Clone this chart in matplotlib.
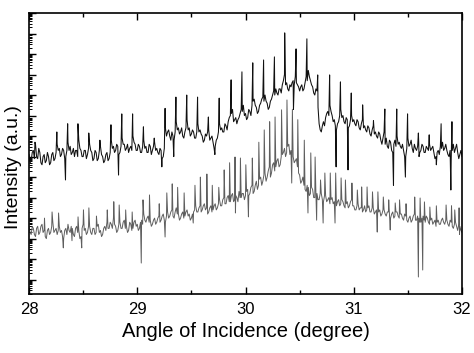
import numpy as np
import matplotlib
matplotlib.use('Agg')
import matplotlib.pyplot as plt
from matplotlib.ticker import LogLocator, NullFormatter, MultipleLocator

plt.rcParams['font.family'] = ['Liberation Sans', 'DejaVu Sans']

# sampling grid of the scans (degree), step 0.02, plus the in-between samples
angle = np.linspace(28, 32, 201)
angle_mid = angle[:-1] + 0.01

# log10 intensity, upper (black) scan
upper_lg = [
    7.1, 6.8, 7.3, 7.6, 6.9, 7.2, 6.6, 7.1, 6.8, 7.0, 6.7, 7.2, 6.9, 7.6, 7.4, 7.1, 7.3, 7.0, 7.7, 7.5, 7.2, 7.0, 7.3, 7.8, 7.3,
    7.0, 7.3, 7.1, 7.6, 7.2, 6.9, 7.2, 6.9, 7.5, 7.0, 6.8, 7.2, 6.9, 7.8, 7.5, 7.3, 7.5, 7.2, 7.9, 7.6, 7.4, 7.2, 7.5, 8.0, 7.6,
    7.3, 7.5, 7.2, 7.8, 7.5, 7.2, 7.5, 7.3, 7.7, 7.4, 7.1, 7.3, 7.0, 8.4, 8.2, 8.0, 8.2, 7.8, 8.7, 8.4, 8.2, 8.0, 8.2, 8.8, 8.4,
    8.1, 8.2, 7.9, 8.6, 8.3, 8.0, 7.8, 8.0, 8.3, 7.9, 7.7, 7.5, 7.9, 8.6, 8.4, 8.2, 8.5, 8.7, 9.0, 9.3, 8.8, 8.6, 8.9, 9.3, 9.5,
    9.1, 8.9, 9.2, 9.5, 9.8, 9.4, 9.2, 9.6, 9.9, 10.0, 9.6, 9.4, 9.8, 10.2, 10.3, 10.0, 10.3, 10.5, 11.0, 10.6, 10.2, 10.4, 10.7, 10.9, 10.5,
    10.2, 10.5, 10.3, 10.9, 11.2, 10.7, 10.4, 10.0, 10.2, 8.6, 8.2, 8.7, 8.9, 9.2, 9.5, 9.0, 8.8, 8.3, 8.7, 9.3, 9.0, 8.6, 8.8, 8.5, 9.0,
    8.8, 8.5, 8.7, 8.3, 8.8, 8.5, 8.2, 8.4, 8.0, 8.5, 8.2, 7.9, 8.1, 7.6, 8.2, 7.9, 7.4, 7.7, 7.2, 7.8, 8.0, 7.7, 7.4, 7.3, 7.0,
    7.9, 7.6, 7.4, 7.6, 7.3, 7.7, 7.3, 7.5, 7.2, 7.4, 7.6, 7.4, 7.2, 7.0, 7.3, 7.5, 7.7, 7.4, 7.3, 7.0, 6.8, 7.6, 7.4, 7.2, 7.1,
    7.0]
upper_mid_lg = [
    6.7, 7.2, 6.9, 7.0, 7.4, 6.7, 7.0, 6.7, 7.2, 6.6, 7.1, 6.8, 7.2, 7.3, 7.0, 7.4, 6.9, 7.3, 7.3, 7.1, 7.4, 7.3, 7.0, 7.4, 7.0,
    7.3, 6.9, 7.4, 7.3, 6.8, 7.3, 6.8, 7.3, 7.1, 6.7, 7.1, 6.8, 7.2, 7.4, 7.2, 7.6, 7.1, 7.5, 7.6, 7.3, 7.6, 7.4, 7.3, 7.7, 7.3,
    7.6, 7.2, 7.5, 7.4, 7.2, 7.6, 7.1, 7.5, 7.3, 7.2, 7.4, 6.9, 7.4, 8.0, 8.3, 7.8, 8.0, 8.2, 8.3, 8.1, 8.4, 7.9, 8.4, 8.3, 8.0,
    8.3, 7.9, 8.2, 8.2, 8.1, 7.7, 8.1, 8.2, 7.8, 8.0, 7.4, 7.8, 8.2, 8.3, 8.2, 8.6, 8.3, 8.9, 9.1, 8.7, 8.9, 8.8, 9.1, 9.2, 9.0,
    8.8, 9.3, 9.0, 9.7, 9.5, 9.1, 9.5, 9.8, 9.7, 9.7, 9.3, 9.7, 10.0, 10.0, 10.1, 10.3, 10.1, 10.7, 10.5, 10.3, 10.5, 10.6, 10.5, 10.6, 10.4,
    10.4, 10.2, 10.6, 10.7, 10.9, 10.5, 10.1, 10.3, 9.4, 8.3, 8.5, 8.5, 9.1, 9.0, 9.2, 8.7, 8.5, 8.6, 9.0, 8.9, 8.7, 8.9, 8.4, 8.8, 8.7,
    8.6, 8.8, 8.4, 8.6, 8.4, 8.3, 8.5, 8.1, 8.3, 8.1, 8.0, 8.2, 7.8, 7.9, 7.6, 7.5, 7.8, 7.3, 7.6, 7.5, 7.6, 7.5, 7.6, 7.0, 7.4,
    7.5, 7.8, 7.2, 7.4, 7.5, 7.2, 7.6, 7.2, 7.5, 7.3, 7.3, 7.5, 6.9, 7.2, 7.1, 7.4, 7.3, 7.6, 7.1, 7.3, 7.3, 7.2, 7.6, 6.9, 7.3]

upper_peak_x = [28.055, 28.257, 28.357, 28.452, 28.552, 28.655, 28.757, 28.857, 28.957, 29.057, 29.157,
                29.257, 29.357, 29.457, 29.557, 29.657, 29.757, 29.867, 29.967, 30.067, 30.167, 30.267,
                30.362, 30.467, 30.567, 30.667, 30.777, 30.877, 30.977, 31.082, 31.182, 31.287, 31.397,
                31.497, 31.597, 31.697, 31.807, 31.907]
upper_peak_lg = [7.7, 8.2, 8.6, 8.6, 8.15, 7.8, 8.55, 9.08, 9.08, 8.45, 7.9,
                 9.35, 9.9, 10.0, 9.9, 8.93, 9.85, 10.74, 11.13, 11.57, 11.71, 11.86,
                 13.03, 12.25, 12.74, 10.98, 10.98, 10.64, 10.1, 9.52, 8.75, 9.32, 9.32,
                 9.08, 8.15, 8.06, 8.6, 8.7]

upper_dip_x = [28.337, 28.827, 29.227, 29.337, 29.717, 30.443, 30.837, 30.947, 31.367, 31.477,
               31.603, 31.763, 31.897]
upper_dip_lg = [5.86, 6.1, 6.5, 7.0, 7.1, 9.3, 6.5, 6.35, 5.6, 6.0, 7.0, 6.6, 5.37]

# log10 intensity, lower (grey) scan
lower_lg = [
    3.6, 3.2, 3.5, 3.1, 3.6, 3.3, 3.7, 3.4, 3.0, 3.5, 3.3, 3.8, 3.4, 3.2, 3.6, 3.4, 3.0, 3.5, 3.7, 3.3, 3.5, 3.1, 3.6, 3.4, 3.1,
    3.7, 3.5, 3.3, 3.6, 3.2, 3.5, 3.3, 3.7, 3.4, 3.2, 3.6, 3.8, 3.5, 3.7, 4.0, 3.6, 3.4, 3.8, 3.5, 3.9, 3.6, 3.4, 3.7, 3.5, 3.9,
    3.7, 3.5, 3.9, 4.2, 3.8, 4.1, 3.9, 3.7, 4.0, 3.8, 4.1, 3.9, 4.2, 3.8, 4.3, 4.1, 4.4, 4.0, 4.5, 4.2, 4.0, 4.3, 4.1, 4.4, 4.2,
    4.0, 4.3, 4.6, 4.3, 4.6, 4.4, 4.7, 4.5, 4.3, 4.6, 4.4, 4.7, 4.5, 4.9, 4.6, 5.0, 4.7, 5.1, 4.8, 5.2, 4.9, 5.0, 5.3, 5.0, 5.2,
    5.1, 5.4, 5.2, 5.6, 5.3, 5.8, 5.6, 6.0, 5.8, 6.2, 6.0, 6.5, 6.2, 6.7, 6.5, 6.9, 6.6, 7.1, 7.4, 7.2, 7.6, 7.3, 7.0, 6.8, 6.5,
    6.1, 5.8, 5.6, 5.3, 5.5, 5.2, 5.4, 5.0, 5.2, 4.9, 5.2, 4.8, 5.1, 4.9, 4.7, 5.0, 4.8, 4.6, 4.9, 4.7, 4.8, 4.5, 4.8, 4.6, 4.9,
    4.6, 4.4, 4.7, 4.5, 4.3, 4.6, 4.4, 4.6, 4.3, 4.5, 4.3, 4.1, 4.4, 4.2, 4.4, 4.1, 4.3, 4.0, 4.3, 4.1, 4.3, 4.0, 4.2, 3.9, 4.1,
    3.8, 4.1, 3.9, 4.2, 3.9, 4.0, 3.8, 4.1, 3.8, 4.0, 3.7, 4.0, 3.8, 3.6, 3.9, 3.7, 4.0, 3.7, 3.9, 3.6, 3.8, 3.5, 3.8, 3.4, 3.6,
    3.3]
lower_mid_lg = [
    3.3, 3.6, 3.2, 3.5, 3.2, 3.6, 3.3, 3.1, 3.4, 3.2, 3.6, 3.3, 3.5, 3.4, 3.3, 3.1, 3.4, 3.2, 3.4, 3.6, 3.2, 3.5, 3.3, 3.0, 3.5,
    3.4, 3.2, 3.6, 3.3, 3.5, 3.2, 3.6, 3.3, 3.1, 3.5, 3.4, 3.5, 3.8, 3.5, 3.7, 3.3, 3.7, 3.5, 3.8, 3.5, 3.3, 3.8, 3.4, 3.8, 3.6,
    3.4, 3.8, 3.7, 3.9, 4.0, 3.8, 3.6, 3.9, 3.7, 4.0, 3.8, 4.1, 3.9, 4.1, 4.0, 4.3, 4.1, 4.3, 4.2, 3.9, 4.2, 4.0, 4.3, 4.1, 3.9,
    4.2, 4.4, 4.3, 4.5, 4.3, 4.6, 4.4, 4.2, 4.5, 4.3, 4.6, 4.4, 4.7, 4.6, 4.9, 4.7, 5.0, 4.8, 5.1, 4.8, 5.1, 4.8, 5.0, 5.2, 4.9,
    5.3, 5.1, 5.5, 5.2, 5.6, 5.4, 5.9, 5.6, 6.1, 5.8, 6.3, 6.0, 6.6, 6.3, 6.8, 6.5, 7.0, 7.2, 7.0, 7.5, 7.1, 7.4, 6.7, 6.9, 6.2,
    5.7, 6.0, 5.4, 5.6, 5.1, 5.5, 5.0, 5.3, 4.9, 5.2, 4.9, 5.1, 4.8, 5.0, 4.9, 4.7, 4.9, 4.8, 4.6, 4.9, 4.6, 4.7, 4.5, 4.8, 4.6,
    4.4, 4.6, 4.4, 4.5, 4.4, 4.3, 4.5, 4.3, 4.5, 4.2, 4.4, 4.3, 4.1, 4.4, 4.2, 4.3, 4.1, 4.2, 4.0, 4.3, 4.1, 4.2, 4.0, 4.2, 3.9,
    4.0, 3.8, 4.1, 3.9, 4.1, 3.8, 4.0, 3.9, 4.1, 3.8, 3.9, 3.7, 3.9, 3.8, 3.7, 3.9, 3.8, 3.9, 3.7, 3.9, 3.6, 3.7, 3.6, 3.7, 3.4]

lower_peak_x = [28.143, 28.213, 28.273, 28.453, 28.503, 28.553, 28.623, 28.723, 28.783, 28.833, 28.893,
                28.953, 29.053, 29.113, 29.203, 29.273, 29.323, 29.373, 29.433, 29.533, 29.583, 29.643,
                29.693, 29.753, 29.803, 29.853, 29.903, 29.953, 30.003, 30.063, 30.123, 30.173, 30.223,
                30.273, 30.333, 30.383, 30.433, 30.483, 30.543, 30.603, 30.643, 30.693, 30.733, 30.783,
                30.833, 30.883, 30.923, 30.983, 31.033, 31.073, 31.123, 31.173, 31.223, 31.273, 31.323,
                31.383, 31.423, 31.483, 31.563, 31.613, 31.653, 31.703, 31.763, 31.853, 31.903, 31.933,
                31.973]
lower_peak_lg = [4.0, 4.3, 4.25, 4.06, 4.4, 4.5, 4.1, 4.4, 4.8, 4.64, 4.4,
                 4.3, 4.89, 5.13, 4.7, 5.23, 5.67, 5.5, 5.23, 5.6, 6.0, 6.15,
                 5.6, 5.5, 6.35, 6.7, 6.98, 6.93, 6.6, 6.93, 7.7, 8.3, 8.7,
                 8.93, 9.28, 9.76, 9.3, 8.8, 7.8, 7.18, 6.98, 5.86, 6.2, 6.2,
                 6.2, 5.96, 5.86, 5.71, 5.37, 5.52, 5.52, 5.28, 5.28, 5.03, 4.89,
                 4.74, 4.89, 4.7, 5.03, 4.98, 4.79, 4.54, 4.6, 4.64, 4.6, 4.4,
                 4.5]

lower_dip_x = [28.317, 28.397, 28.487, 29.037, 29.257, 29.517, 29.907, 30.027, 30.427, 30.577,
               30.657, 30.717, 30.827, 31.217, 31.337, 31.597, 31.637, 31.977]
lower_dip_lg = [2.55, 2.9, 2.55, 1.81, 3.08, 3.76, 4.25, 4.06, 5.71, 4.25,
                3.9, 3.76, 3.76, 3.32, 3.42, 1.13, 1.47, 3.2]


def trace(base, mid, px, py, dx, dy):
    x = np.concatenate([angle, angle_mid, px, dx])
    y = np.concatenate([base, mid, py, dy])
    order = np.argsort(x, kind='stable')
    return x[order], 10.0 ** y[order]


fig = plt.figure(figsize=(4.74, 3.53), dpi=100)
ax = fig.add_axes([0.0612, 0.1671, 0.9135, 0.7961])

x1, y1 = trace(upper_lg, upper_mid_lg, upper_peak_x, upper_peak_lg, upper_dip_x, upper_dip_lg)
x2, y2 = trace(lower_lg, lower_mid_lg, lower_peak_x, lower_peak_lg, lower_dip_x, lower_dip_lg)
ax.plot(x1, y1, color='#101010', lw=0.75)
ax.plot(x2, y2, color='#5e5e5e', lw=0.7)

ax.set_yscale('log')
ax.set_xlim(28, 32)
ax.set_ylim(10 ** 0.3, 10 ** 14)

ax.xaxis.set_major_locator(MultipleLocator(1))
ax.xaxis.set_minor_locator(MultipleLocator(0.5))
ax.yaxis.set_major_locator(LogLocator(base=10, subs=(1.0,), numticks=100))
ax.yaxis.set_minor_locator(LogLocator(base=10, subs=np.arange(2, 10), numticks=100))
ax.yaxis.set_major_formatter(NullFormatter())
ax.yaxis.set_minor_formatter(NullFormatter())

ax.tick_params(axis='x', which='both', direction='in', top=True, labelsize=12, pad=6)
ax.tick_params(axis='x', which='major', length=5, width=1)
ax.tick_params(axis='x', which='minor', length=3, width=1)
ax.tick_params(axis='y', which='both', direction='in', right=False)
ax.tick_params(axis='y', which='major', length=5, width=1)
ax.tick_params(axis='y', which='minor', length=2.5, width=0.7)

for s in ax.spines.values():
    s.set_linewidth(1.2)

ax.set_xlabel('Angle of Incidence (degree)', fontsize=14.5, labelpad=3)
ax.set_ylabel('Intensity (a.u.)', fontsize=14, labelpad=4)
ax.yaxis.set_label_coords(-0.016, 0.45)

fig.savefig('out.png', dpi=100)
